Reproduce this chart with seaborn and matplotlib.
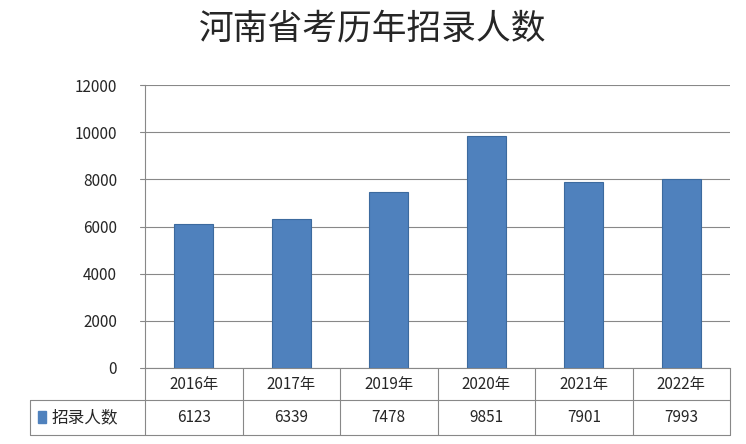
import matplotlib
matplotlib.use('Agg')
import matplotlib.pyplot as plt
import seaborn as sns
from matplotlib.lines import Line2D
from matplotlib.patches import Rectangle

years = ['2016年', '2017年', '2019年', '2020年', '2021年', '2022年']
counts = [6123, 6339, 7478, 9851, 7901, 7993]
series_name = '招录人数'
title = '河南省考历年招录人数'

sns.set_style('white')
plt.rcParams['font.family'] = ['Noto Sans CJK SC', 'DejaVu Sans']

fig = plt.figure(figsize=(7.46, 4.44), dpi=100)
L, R, B, T = 145 / 746, 730 / 746, 1 - 368 / 444, 1 - 85 / 444
ax = fig.add_axes([L, B, R - L, T - B])
sns.barplot(x=years, y=counts, color='#4F81BD', width=0.4, saturation=1, ax=ax,
            edgecolor='#3C6A9E', linewidth=0.8, zorder=3)
ax.set_ylim(0, 12000)
ax.set_yticks(range(0, 12001, 2000))
ax.set_xlim(-0.5, len(years) - 0.5)
ax.set_xticks([])
ax.set_xlabel('')
ax.tick_params(axis='y', labelsize=11, length=0, pad=20)
ax.yaxis.grid(True, color='#888888', lw=0.8)
ax.set_axisbelow(True)
for s in ax.spines.values():
    s.set_color('#888888')
    s.set_linewidth(0.8)
ax.spines['right'].set_visible(False)
ax.spines['top'].set_visible(False)
for t in ax.get_yticks():
    ax.plot([-0.5 - 0.05, -0.5], [t, t], color='#888888', lw=0.8, clip_on=False)

fig.suptitle(title, y=0.975, fontsize=25, fontweight='medium')

# data table
y1, y2 = 1 - 400 / 444, 1 - 435 / 444
x0 = 30 / 746
cw = (R - L) / len(years)
lc = '#888888'
fig.add_artist(Line2D([x0, R], [y1, y1], color=lc, lw=0.8))
fig.add_artist(Line2D([x0, R], [y2, y2], color=lc, lw=0.8))
fig.add_artist(Line2D([x0, x0], [y1, y2], color=lc, lw=0.8))
fig.add_artist(Line2D([R, R], [B, y2], color=lc, lw=0.8))
for k in range(len(years)):
    xx = L + k * cw
    fig.add_artist(Line2D([xx, xx], [B, y2], color=lc, lw=0.8))
    fig.text(xx + cw / 2, (B + y1) / 2, years[k], ha='center', va='center', fontsize=11)
    fig.text(xx + cw / 2, (y1 + y2) / 2, str(counts[k]), ha='center', va='center', fontsize=11)
fig.add_artist(Rectangle((38 / 746, (y1 + y2) / 2 - 0.012), 8 / 746, 0.027, color='#4F81BD'))
fig.text(52 / 746, (y1 + y2) / 2, series_name, ha='left', va='center', fontsize=12)

fig.savefig('out.png', dpi=100)
